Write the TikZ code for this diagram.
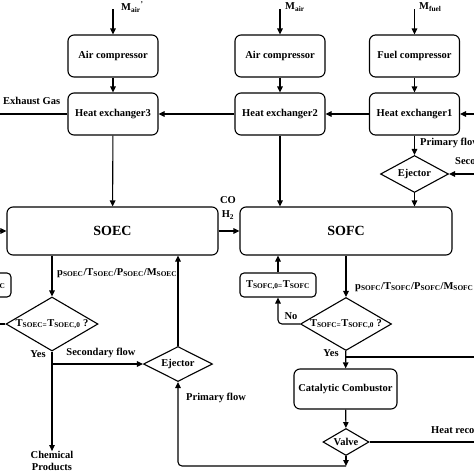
\documentclass[tikz,border=0pt]{standalone}
\usepackage{fontspec}
\setmainfont{Liberation Serif}
\usetikzlibrary{arrows.meta,shapes.geometric}
\tikzset{
  unit/.style={draw,rounded corners=6pt,line width=1.1pt,minimum width=90pt,minimum height=42pt,inner sep=0pt},
  cell/.style={unit,minimum width=211pt,minimum height=48pt,font=\bfseries\fontsize{14}{16}\selectfont},
  small/.style={unit,minimum width=76pt,minimum height=24pt,rounded corners=4pt},
  check/.style={draw,diamond,line width=1.1pt,inner sep=0pt},
  lbl/.style={inner sep=0pt},
  flow/.style={line width=1.1pt,-{Triangle[length=6pt,width=5.5pt]}},
  pipe/.style={line width=1.1pt},
}
\begin{document}
\begin{tikzpicture}[x=1pt,y=-1pt,font=\bfseries\fontsize{10.5}{12}\selectfont]
  \useasboundingbox (0,0) rectangle (474,474);
  % top row
  \node[unit] (ac3) at (113,56) {Air compressor};
  \node[unit] (hx3) at (113,114) {Heat exchanger3};
  \node[unit] (ac2) at (280,56) {Air compressor};
  \node[unit] (hx2) at (280,114) {Heat exchanger2};
  \node[unit] (fc) at (414.5,56) {Fuel compressor};
  \node[unit] (hx1) at (414.5,114) {Heat exchanger1};
  \node[check,minimum width=68pt,minimum height=37pt] (ej1) at (414.5,174) {\makebox[0pt]{Ejector}};
  % cells
  \node[cell] (soec) at (112.5,231) {SOEC};
  \node[cell,minimum width=212pt] (sofc) at (346,231) {SOFC};
  % checks
  \node[check,minimum width=92pt,minimum height=54pt] (chk1) at (52,324) {\makebox[0pt]{T\textsubscript{SOEC=}T\textsubscript{SOEC,0} ?}};
  \node[small] (bx1) at (-27,285) {T\textsubscript{SOEC,0=}T\textsubscript{SOEC}};
  \node[small] (bx2) at (278,285) {T\textsubscript{SOFC,0=}T\textsubscript{SOFC}};
  \node[check,minimum width=91pt,minimum height=53pt] (chk2) at (346,324) {\makebox[0pt]{T\textsubscript{SOFC=}T\textsubscript{SOFC,0} ?}};
  \node[check,minimum width=69pt,minimum height=35pt] (ej2) at (178,364) {\makebox[0pt]{Ejector}};
  \node[unit,minimum width=103pt,minimum height=40pt] (cc) at (345.5,389) {Catalytic Combustor};
  \node[check,minimum width=46pt,minimum height=27pt] (valve) at (346,442) {\makebox[0pt]{Valve}};
  \node[lbl,align=center] (prod) at (52,461) {Chemical\\Products};
  % free ends
  \coordinate (in3) at (113,9);
  \coordinate (in2) at (280,9);
  \coordinate (in1) at (414.5,9);
  \coordinate (exh) at (0,114);
  \coordinate (r1) at (474,114);
  \coordinate (r2) at (474,174);
  \coordinate (l1) at (0,231);
  \coordinate (l2) at (0,324);
  \coordinate (br1) at (52,364);
  \coordinate (br2) at (346,357);
  \coordinate (r3) at (474,357);
  \coordinate (r4) at (474,442);
  \coordinate (j1) at (346,466);
  % labels
  \node[lbl,anchor=west] (mair3) at (121,7) {M\textsubscript{air}\textsuperscript{'}};
  \node[lbl,anchor=west] (mair2) at (285,7) {M\textsubscript{air}};
  \node[lbl,anchor=west] (mfuel) at (419,7) {M\textsubscript{fuel}};
  \node[lbl,anchor=west] (exhlbl) at (3,101) {Exhaust Gas};
  \node[lbl,anchor=west] (pri1) at (420,143) {Primary flow};
  \node[lbl,anchor=west] (sec1) at (455,162) {Secondary flow};
  \node[lbl] (co) at (228,200) {CO};
  \node[lbl] (htwo) at (228,215) {H\textsubscript{2}};
  \node[lbl,anchor=west] (st1) at (57,273) {p\textsubscript{SOEC}/T\textsubscript{SOEC}/P\textsubscript{SOEC}/M\textsubscript{SOEC}};
  \node[lbl,anchor=west] (st2) at (355,287) {p\textsubscript{SOFC}/T\textsubscript{SOFC}/P\textsubscript{SOFC}/M\textsubscript{SOFC}};
  \node[lbl] (yes1) at (38,354) {Yes};
  \node[lbl] (sec2) at (101,353) {Secondary flow};
  \node[lbl,anchor=west] (pri2) at (186,398) {Primary flow};
  \node[lbl] (no) at (291,316) {No};
  \node[lbl] (yes2) at (331,353) {Yes};
  \node[lbl,anchor=west] (heat) at (431,431) {Heat recovery};
  \begin{scope}[flow]
    \draw (in3) to (ac3);
    \draw (in2) to (ac2);
    \draw (in1) to (fc);
    \draw (ac3) to (hx3);
    \draw (ac2) to (hx2);
    \draw (fc) to (hx1);
    \draw (r1) to (hx1);
    \draw (hx1) to (hx2);
    \draw (hx2) to (hx3);
    \draw (hx1) to (ej1);
    \draw (r2) to (ej1);
    \draw (ej1) to (ej1 |- sofc.north);
    \draw (hx2) to (hx2 |- sofc.north);
    \draw (hx3) to (soec);
    \draw (l1) to (soec);
    \draw (soec) to (sofc);
    \draw (chk1 |- soec.south) to (chk1);
    \draw (chk1) to (prod);
    \draw (br1) to (ej2);
    \draw (ej2) to (ej2 |- soec.south);
    \draw (sofc.south -| chk2) to (chk2);
    \draw[rounded corners=4pt] (chk2.west) -| (bx2.south);
    \draw (bx2) to (bx2 |- sofc.south);
    \draw (chk2) to (cc);
    \draw (cc) to (valve);
    \draw (valve) to (j1);
    \draw[rounded corners=4pt] (j1) -| (ej2.south);
  \end{scope}
  \begin{scope}[pipe]
    \draw (hx3) to (exh);
    \draw (chk1) to (l2);
    \draw (br2) to (r3);
    \draw (valve) to (r4);
  \end{scope}
\end{tikzpicture}
\end{document}
